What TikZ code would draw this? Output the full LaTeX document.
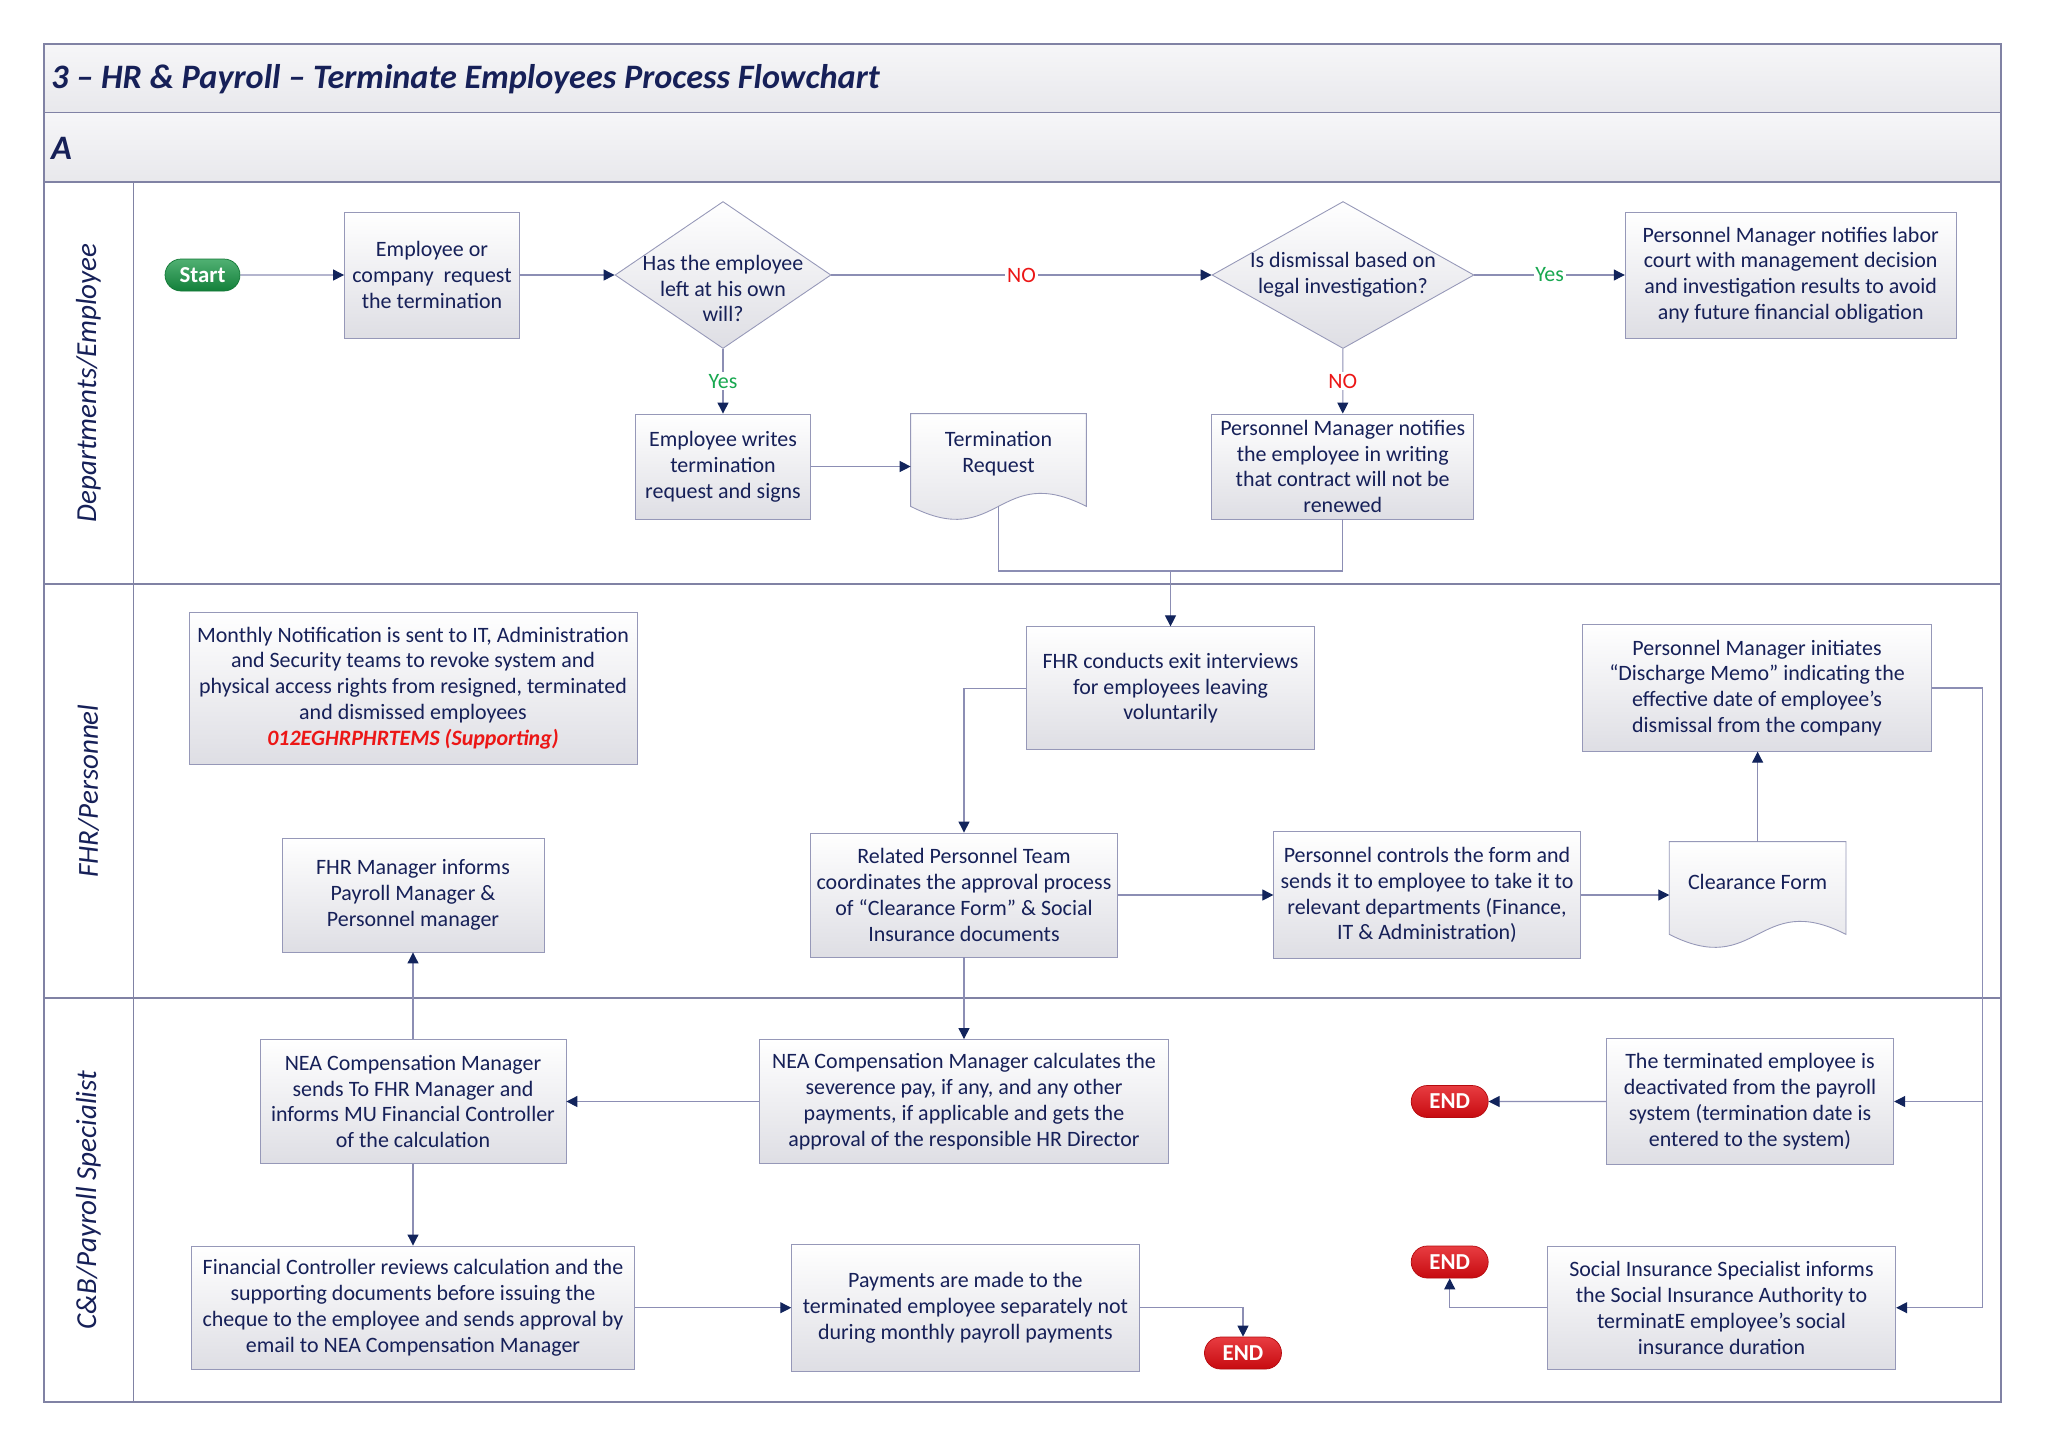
\documentclass[tikz,border=0pt]{standalone}
\usepackage{fontspec}
\setmainfont{Carlito}
\usetikzlibrary{shapes.geometric,shapes.misc,arrows.meta,calc,backgrounds}
\definecolor{navy}{RGB}{22,32,88}
\definecolor{tipblue}{RGB}{18,36,92}
\definecolor{linegray}{RGB}{140,142,180}
\definecolor{framegray}{RGB}{128,130,164}
\definecolor{boxline}{RGB}{150,152,184}
\definecolor{boxbot}{RGB}{222,222,228}
\definecolor{bandtop}{RGB}{246,246,248}
\definecolor{bandbot}{RGB}{232,232,236}
\definecolor{startgreen}{RGB}{22,150,68}
\definecolor{endred}{RGB}{226,12,18}
\definecolor{yesgreen}{RGB}{24,168,80}
\definecolor{nored}{RGB}{236,22,22}
\newcommand{\paperoutline}[1]{%
  \begin{scope}[on background layer]
  \draw[draw=boxline, line width=0.5pt, top color=white, bottom color=boxbot]
    (#1.north west) -- (#1.north east) -- ($(#1.south east)+(0,12)$)
    .. controls ($(#1.south east)+(-88,-33)$) and ($(#1.south west)+(88,57)$) .. ($(#1.south west)+(0,12)$) -- cycle;
  \end{scope}}
\begin{document}
\begin{tikzpicture}[x=0.02cm, y=-0.02cm, font=\fontsize{12.5}{14.7}\selectfont, text=navy,
  box/.style={draw=boxline, line width=0.5pt, top color=white, bottom color=boxbot, align=center, inner sep=1pt},
  decision/.style={diamond, draw=boxline, line width=0.5pt, top color=white, bottom color=boxbot, align=center, inner sep=-20pt},
  paper/.style={align=center, inner sep=0pt, minimum width=3.5cm, minimum height=1.6cm},
  terminal/.style={rounded rectangle, minimum width=1.54cm, minimum height=0.64cm, inner sep=0pt, text=white, font=\fontsize{13}{15}\selectfont\bfseries},
  startpill/.style={terminal, draw=startgreen!80!black, top color=startgreen!75!white, bottom color=startgreen!85!black},
  endpill/.style={terminal, draw=endred!80!black, top color=endred!80!white, bottom color=endred!88!black},
  conn/.style={draw=linegray, line width=0.6pt, -{Triangle[length=0.22cm, width=0.22cm, color=tipblue]}},
  wire/.style={draw=linegray, line width=0.6pt},
  yeslbl/.style={fill=white, inner sep=1pt, text=yesgreen},
  nolbl/.style={fill=white, inner sep=1pt, text=nored},
  lanelbl/.style={rotate=90, font=\fontsize{16.5}{19}\selectfont\itshape},
  headlbl/.style={anchor=west, font=\fontsize{19.5}{22}\selectfont\bfseries\itshape}]
\begin{scope}[on background layer]
\fill[white] (0,0) rectangle (2048,1448);
\end{scope}
\useasboundingbox (0,0) rectangle (2048,1448);
% frame and lanes
\shade[top color=bandtop, bottom color=bandbot] (44,44) rectangle (2001,112.7);
\shade[top color=bandtop, bottom color=bandbot] (44,112.7) rectangle (2001,181.7);
\draw[framegray, line width=0.9pt] (44,44) rectangle (2001,1402);
\foreach \y in {112.7,181.7,584,998}
  \draw[framegray, line width=0.9pt] (44,\y) -- (2001,\y);
\draw[framegray, line width=0.9pt] (133.5,181.7) -- (133.5,1402);
\node[headlbl] (title) at (45,79) {3 – HR \& Payroll – Terminate Employees Process Flowchart};
\node[headlbl] (part) at (45,148) {A};
\node[lanelbl] (lane1) at (88.5,383) {Departments/Employee};
\node[lanelbl] (lane2) at (88.5,791) {FHR/Personnel};
\node[lanelbl] (lane3) at (88.5,1200) {C\&B/Payroll Specialist};

% Departments/Employee
\node[startpill, minimum width=1.5cm] (start) at (202.5,275) {Start};
\node[box, minimum width=3.5cm, minimum height=2.52cm] (req) at (432,275) {Employee or\\company\ \ request\\the termination};
\node[decision, minimum width=4.32cm, minimum height=2.94cm] (q1) at (723,275) {\rule{0pt}{24pt}Has the employee\\left at his own\\will?};
\node[decision, minimum width=5.24cm, minimum height=2.94cm] (q2) at (1343,275) {Is dismissal based on\\legal investigation?};
\node[box, minimum width=6.62cm, minimum height=2.52cm] (court) at (1790.7,275) {Personnel Manager notifies labor\\court with management decision\\and investigation results to avoid\\any future financial obligation};
\node[box, minimum width=3.5cm, minimum height=2.1cm] (writes) at (723,466.5) {Employee writes\\termination\\request and signs};
\node[paper] (treq) at (998.5,454) {Termination\\Request};
\paperoutline{treq}
\node[box, minimum width=5.24cm, minimum height=2.1cm] (pmw) at (1342.7,466.5) {Personnel Manager notifies\\the employee in writing\\that contract will not be\\renewed};

% FHR/Personnel
\node[box, minimum width=8.96cm, minimum height=3.04cm] (monthly) at (413,688) {Monthly Notification is sent to IT, Administration\\and Security teams to revoke system and\\physical access rights from resigned, terminated\\and dismissed employees\\{\color{nored}\bfseries\itshape 012EGHRPHRTEMS (Supporting)}};
\node[box, minimum width=5.76cm, minimum height=2.46cm] (fhr) at (1170.5,688.3) {FHR conducts exit interviews\\for employees leaving\\voluntarily};
\node[box, minimum width=6.97cm, minimum height=2.53cm] (memo) at (1757,688) {Personnel Manager initiates\\“Discharge Memo” indicating the\\effective date of employee’s\\dismissal from the company};
\node[box, minimum width=5.24cm, minimum height=2.28cm] (fhrm) at (413,895) {FHR Manager informs\\Payroll Manager \&\\Personnel manager};
\node[box, minimum width=6.13cm, minimum height=2.48cm] (rel) at (964,895) {Related Personnel Team\\coordinates the approval process\\of “Clearance Form” \& Social\\Insurance documents};
\node[box, minimum width=6.13cm, minimum height=2.53cm] (pctl) at (1427,895) {Personnel controls the form and\\sends it to employee to take it to\\relevant departments (Finance,\\IT \& Administration)};
\node[paper, minimum width=3.52cm] (cform) at (1757.6,882) {Clearance Form};
\paperoutline{cform}

% C&B/Payroll Specialist
\node[box, minimum width=6.12cm, minimum height=2.48cm] (sends) at (413,1101.5) {NEA Compensation Manager\\sends To FHR Manager and\\informs MU Financial Controller\\of the calculation};
\node[box, minimum width=8.17cm, minimum height=2.48cm] (calc) at (964,1101.5) {NEA Compensation Manager calculates the\\severence pay, if any, and any other\\payments, if applicable and gets the\\approval of the responsible HR Director};
\node[endpill] (end1) at (1449.7,1101.5) {END};
\node[box, minimum width=5.75cm, minimum height=2.53cm] (term) at (1750,1101.5) {The terminated employee is\\deactivated from the payroll\\system (termination date is\\entered to the system)};
\node[box, minimum width=8.86cm, minimum height=2.47cm] (fc) at (413,1307.7) {Financial Controller reviews calculation and the\\supporting documents before issuing the\\cheque to the employee and sends approval by\\email to NEA Compensation Manager};
\node[box, minimum width=6.95cm, minimum height=2.53cm] (pay) at (965.4,1307.7) {Payments are made to the\\terminated employee separately not\\during monthly payroll payments};
\node[endpill] (end3) at (1243,1353) {END};
\node[endpill] (end2) at (1449.7,1262) {END};
\node[box, minimum width=6.97cm, minimum height=2.47cm] (soc) at (1721.5,1307.7) {Social Insurance Specialist informs\\the Social Insurance Authority to\\terminatE employee’s social\\insurance duration};

% connectors
\draw[conn] (start) -- (req);
\draw[conn] (req) -- (q1);
\draw[conn] (q1) -- node[nolbl]{NO} (q2);
\draw[conn] (q2) -- node[yeslbl]{Yes} (court);
\draw[conn] (q1) -- node[yeslbl]{Yes} (writes);
\draw[conn] (q2) -- node[nolbl]{NO} (pmw);
\draw[conn] (writes.east) -- (writes.east -| treq.west);
\coordinate (join) at (1170.5,571);
\draw[wire] ($(treq.south)+(0,12)$) |- (join) -| (pmw.south);
\draw[conn] (join) -- (fhr);
\draw[conn] (fhr.west) -| (rel.north);
\draw[conn] (rel) -- (pctl);
\draw[conn] (pctl.east) -- (pctl.east -| cform.west);
\draw[conn] (cform.north) -- (cform.north |- memo.south);
\coordinate (rbend) at (1982.5,1307.7);
\draw[conn] (memo.east) -| (rbend) -- (soc.east);
\draw[conn] (term.east -| rbend) -- (term.east);
\draw[conn] (rel) -- (calc);
\draw[conn] (calc) -- (sends);
\draw[conn] (sends) -- (fhrm);
\draw[conn] (sends) -- (fc);
\draw[conn] (fc) -- (pay);
\draw[conn] (pay.east) -| (end3.north);
\draw[conn] (term) -- (end1);
\draw[conn] (soc.west) -| (end2.south);
\end{tikzpicture}
\end{document}
